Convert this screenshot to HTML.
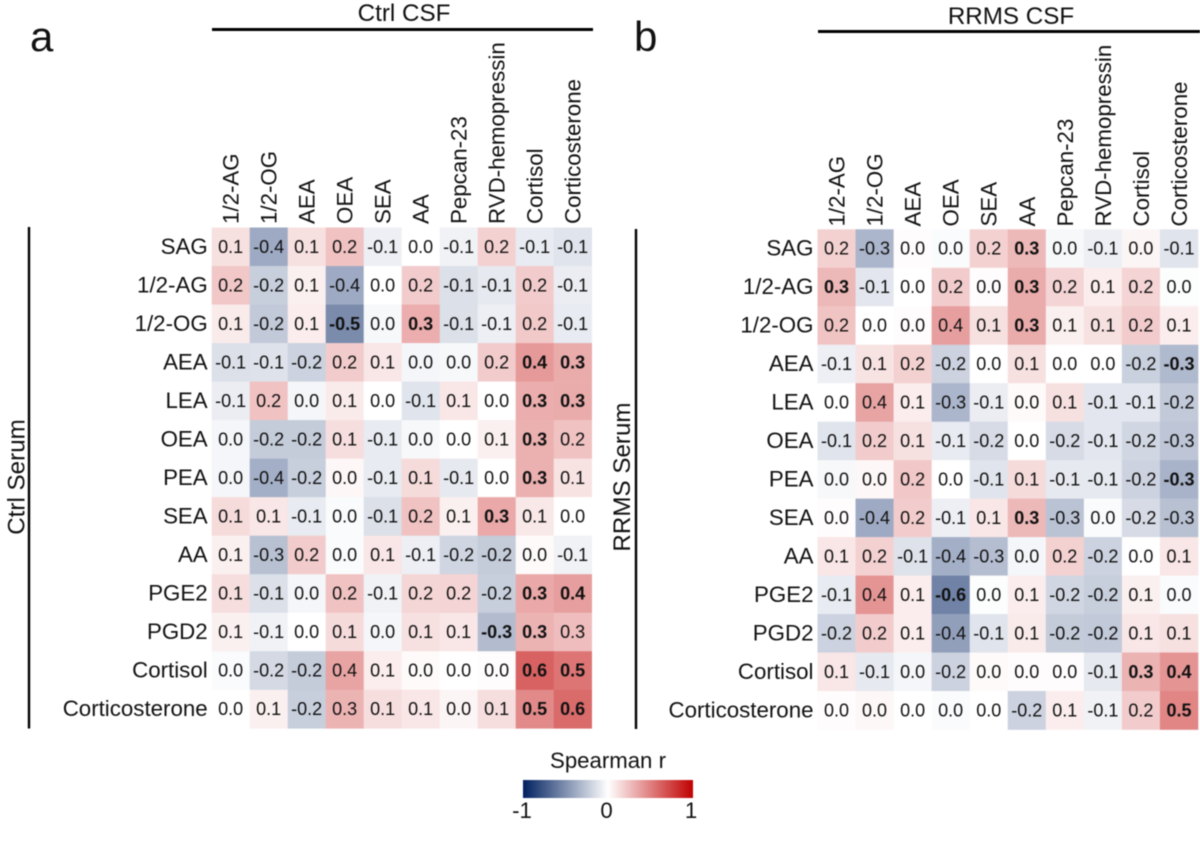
<!DOCTYPE html>
<html lang="en">
<head>
<meta charset="utf-8">
<title>Spearman correlation heatmaps</title>
<style>
  html, body { margin: 0; padding: 0; background: #fff; }
  body { width: 1200px; height: 842px; overflow: hidden; }
  svg { display: block; filter: blur(0.45px); font-family: "Liberation Sans", Arial, sans-serif; fill: #111; }
</style>
</head>
<body>
<svg id="figure" width="1200" height="842" viewBox="0 0 1200 842" xmlns="http://www.w3.org/2000/svg">
  <defs>
    <linearGradient id="colorbar-gradient" x1="0" x2="1" y1="0" y2="0">
      <stop offset="0" stop-color="#002060"/>
      <stop offset="0.5" stop-color="#ffffff"/>
      <stop offset="1" stop-color="#c00000"/>
    </linearGradient>
  </defs>
  <rect x="0" y="0" width="1200" height="842" fill="#fff"/>

  <text x="30" y="51" font-size="42">a</text>
  <text x="634" y="51" font-size="42">b</text>

  <text x="404" y="21" font-size="24.2" text-anchor="middle">Ctrl CSF</text>
  <line x1="212" y1="29.5" x2="593" y2="29.5" stroke="#000" stroke-width="3"/>
  <text x="1011" y="24" font-size="24.2" text-anchor="middle">RRMS CSF</text>
  <line x1="818" y1="31.5" x2="1200" y2="31.5" stroke="#000" stroke-width="3"/>

  <text transform="translate(24.5 477) rotate(-90)" font-size="24.2" text-anchor="middle">Ctrl Serum</text>
  <line x1="29" y1="227" x2="29" y2="728.5" stroke="#000" stroke-width="2.4"/>
  <text transform="translate(630 477) rotate(-90)" font-size="24.2" text-anchor="middle">RRMS Serum</text>
  <line x1="636" y1="229" x2="636" y2="729" stroke="#000" stroke-width="2.4"/>

  <g id="panel-a"></g>
  <g id="panel-b"></g>

  <g id="legend">
    <text x="608" y="768" font-size="22.2" text-anchor="middle">Spearman r</text>
    <rect x="523" y="780" width="170" height="18" fill="url(#colorbar-gradient)"/>
  </g>
</svg>
<script>
const columnLabels = ["1/2-AG", "1/2-OG", "AEA", "OEA", "SEA", "AA", "Pepcan-23", "RVD-hemopressin", "Cortisol", "Corticosterone"];
const rowLabels = ["SAG", "1/2-AG", "1/2-OG", "AEA", "LEA", "OEA", "PEA", "SEA", "AA", "PGE2", "PGD2", "Cortisol", "Corticosterone"];

const ctrlValues = [
  [0.12, -0.38, 0.12, 0.24, -0.07, 0.00, -0.06, 0.18, -0.09, -0.12],
  [0.22, -0.22, 0.06, -0.38, 0.00, 0.20, -0.14, -0.10, 0.20, -0.08],
  [0.08, -0.24, 0.07, -0.52, -0.03, 0.32, -0.14, -0.07, 0.21, -0.09],
  [-0.14, -0.13, -0.20, 0.20, 0.10, -0.04, -0.03, 0.20, 0.40, 0.33],
  [-0.08, 0.24, -0.04, 0.08, 0.00, -0.12, 0.10, 0.00, 0.32, 0.33],
  [-0.04, -0.23, -0.23, 0.13, -0.09, -0.03, 0.00, 0.06, 0.31, 0.24],
  [-0.04, -0.36, -0.22, 0.03, -0.09, 0.14, -0.10, 0.00, 0.31, 0.11],
  [0.14, 0.10, -0.09, -0.02, -0.14, 0.24, 0.06, 0.34, 0.09, 0.00],
  [0.06, -0.28, 0.20, -0.02, 0.10, -0.07, -0.19, -0.23, 0.02, -0.06],
  [0.13, -0.14, -0.04, 0.24, -0.06, 0.16, 0.17, -0.22, 0.34, 0.38],
  [0.06, -0.06, 0.00, 0.14, -0.04, 0.12, 0.10, -0.30, 0.30, 0.26],
  [-0.02, -0.17, -0.23, 0.36, 0.07, 0.02, 0.00, 0.01, 0.62, 0.54],
  [0.00, 0.06, -0.22, 0.30, 0.13, 0.10, 0.04, 0.13, 0.46, 0.58]
];
const rrmsValues = [
  [0.18, -0.33, 0.01, -0.02, 0.18, 0.28, -0.03, -0.07, 0.04, -0.12],
  [0.28, -0.11, 0.00, 0.20, 0.01, 0.33, 0.17, 0.07, 0.17, -0.01],
  [0.23, 0.00, 0.01, 0.38, 0.12, 0.33, 0.06, 0.12, 0.20, 0.07],
  [-0.07, 0.11, 0.18, -0.20, 0.00, 0.12, 0.00, 0.00, -0.21, -0.31],
  [0.00, 0.36, 0.07, -0.33, -0.08, 0.02, 0.12, -0.11, -0.11, -0.24],
  [-0.12, 0.20, 0.12, -0.09, -0.16, 0.00, -0.16, -0.11, -0.18, -0.26],
  [-0.03, 0.03, 0.22, 0.00, -0.12, 0.14, -0.10, -0.10, -0.20, -0.34],
  [0.01, -0.38, 0.20, -0.07, 0.10, 0.28, -0.27, -0.02, -0.16, -0.28],
  [0.10, 0.18, -0.13, -0.36, -0.29, -0.04, 0.18, -0.20, 0.00, 0.10],
  [-0.09, 0.42, 0.07, -0.56, -0.01, 0.07, -0.18, -0.22, 0.06, -0.02],
  [-0.20, 0.20, 0.07, -0.43, -0.12, 0.08, -0.23, -0.24, 0.10, 0.12],
  [0.10, -0.10, -0.04, -0.20, 0.02, 0.01, 0.01, -0.10, 0.30, 0.42],
  [0.01, 0.03, 0.00, -0.02, 0.00, -0.20, 0.07, -0.06, 0.20, 0.48]
];

/* Significant (bold) cells, as "row|column" label pairs */
const ctrlSignificant = [
  "1/2-OG|OEA", "1/2-OG|AA",
  "AEA|Cortisol", "AEA|Corticosterone",
  "LEA|Cortisol", "LEA|Corticosterone",
  "OEA|Cortisol", "PEA|Cortisol",
  "SEA|RVD-hemopressin",
  "PGE2|Cortisol", "PGE2|Corticosterone",
  "PGD2|RVD-hemopressin", "PGD2|Cortisol",
  "Cortisol|Cortisol", "Cortisol|Corticosterone",
  "Corticosterone|Cortisol", "Corticosterone|Corticosterone"
];
const rrmsSignificant = [
  "SAG|AA", "1/2-AG|1/2-AG", "1/2-AG|AA", "1/2-OG|AA",
  "AEA|Corticosterone", "PEA|Corticosterone", "SEA|AA", "PGE2|OEA",
  "Cortisol|Cortisol", "Cortisol|Corticosterone", "Corticosterone|Corticosterone"
];
const colorbarTicks = [-1, 0, 1];

const SVG_NS = "http://www.w3.org/2000/svg";
const COLOR_ZERO = [255, 255, 255];
const COLOR_POS = [192, 0, 0];
const COLOR_NEG = [0, 32, 96];

function colorScale(v) {
  const end = v >= 0 ? COLOR_POS : COLOR_NEG;
  const t = Math.min(1, Math.abs(v));
  const c = COLOR_ZERO.map((z, i) => Math.round(z + (end[i] - z) * t));
  return "rgb(" + c.join(",") + ")";
}
function formatValue(v) {
  const s = v.toFixed(1);
  return s === "-0.0" ? "0.0" : s;
}
function svgEl(tag) {
  return document.createElementNS(SVG_NS, tag);
}

function drawHeatmap(group, values, significant, left, right, top, bottom, labelBottom, prefix) {
  const bandX = (right - left) / columnLabels.length;
  const bandY = (bottom - top) / rowLabels.length;
  const xScale = i => left + i * bandX;
  const yScale = j => top + j * bandY;

  columnLabels.forEach((label, i) => {
    const t = svgEl("text");
    
    
    t.setAttribute("transform", "translate(" + (xScale(i) + bandX / 2 + 8) + " " + labelBottom + ") rotate(-90)");
    t.setAttribute("font-size", "22.3");
    t.textContent = label;
    group.appendChild(t);
  });

  rowLabels.forEach((label, j) => {
    const t = svgEl("text");
    
    
    t.setAttribute("x", left - 4);
    t.setAttribute("y", yScale(j) + bandY / 2 + 7.2);
    t.setAttribute("font-size", "22.3");
    t.setAttribute("text-anchor", "end");
    t.textContent = label;
    group.appendChild(t);
  });

  values.forEach((row, j) => {
    row.forEach((v, i) => {
      const r = svgEl("rect");
      
      
      r.setAttribute("x", xScale(i));
      r.setAttribute("y", yScale(j));
      r.setAttribute("width", bandX + 0.3);
      r.setAttribute("height", bandY + 0.3);
      r.setAttribute("fill", colorScale(v));
      group.appendChild(r);
    });
  });

  values.forEach((row, j) => {
    row.forEach((v, i) => {
      const t = svgEl("text");
      
      
      t.setAttribute("x", xScale(i) + bandX / 2);
      t.setAttribute("y", yScale(j) + bandY / 2 + 6.2);
      t.setAttribute("font-size", "18");
      t.setAttribute("text-anchor", "middle");
      if (significant.includes(rowLabels[j] + "|" + columnLabels[i])) {
        t.setAttribute("font-weight", "bold");
      }
      t.textContent = formatValue(v);
      group.appendChild(t);
    });
  });
}

drawHeatmap(document.getElementById("panel-a"), ctrlValues, ctrlSignificant, 211.7, 591.7, 227.5, 728.3, 224, "ctrl");
drawHeatmap(document.getElementById("panel-b"), rrmsValues, rrmsSignificant, 817.5, 1198, 229.3, 729.5, 226.5, "rrms");

const legend = document.getElementById("legend");
const barScale = v => 522 + (v + 1) / 2 * 169;
colorbarTicks.forEach(v => {
  const t = svgEl("text");
  
  
  t.setAttribute("x", barScale(v));
  t.setAttribute("y", 818);
  t.setAttribute("font-size", "22.2");
  t.setAttribute("text-anchor", "middle");
  t.textContent = String(v);
  legend.appendChild(t);
});
</script>
</body>
</html>
